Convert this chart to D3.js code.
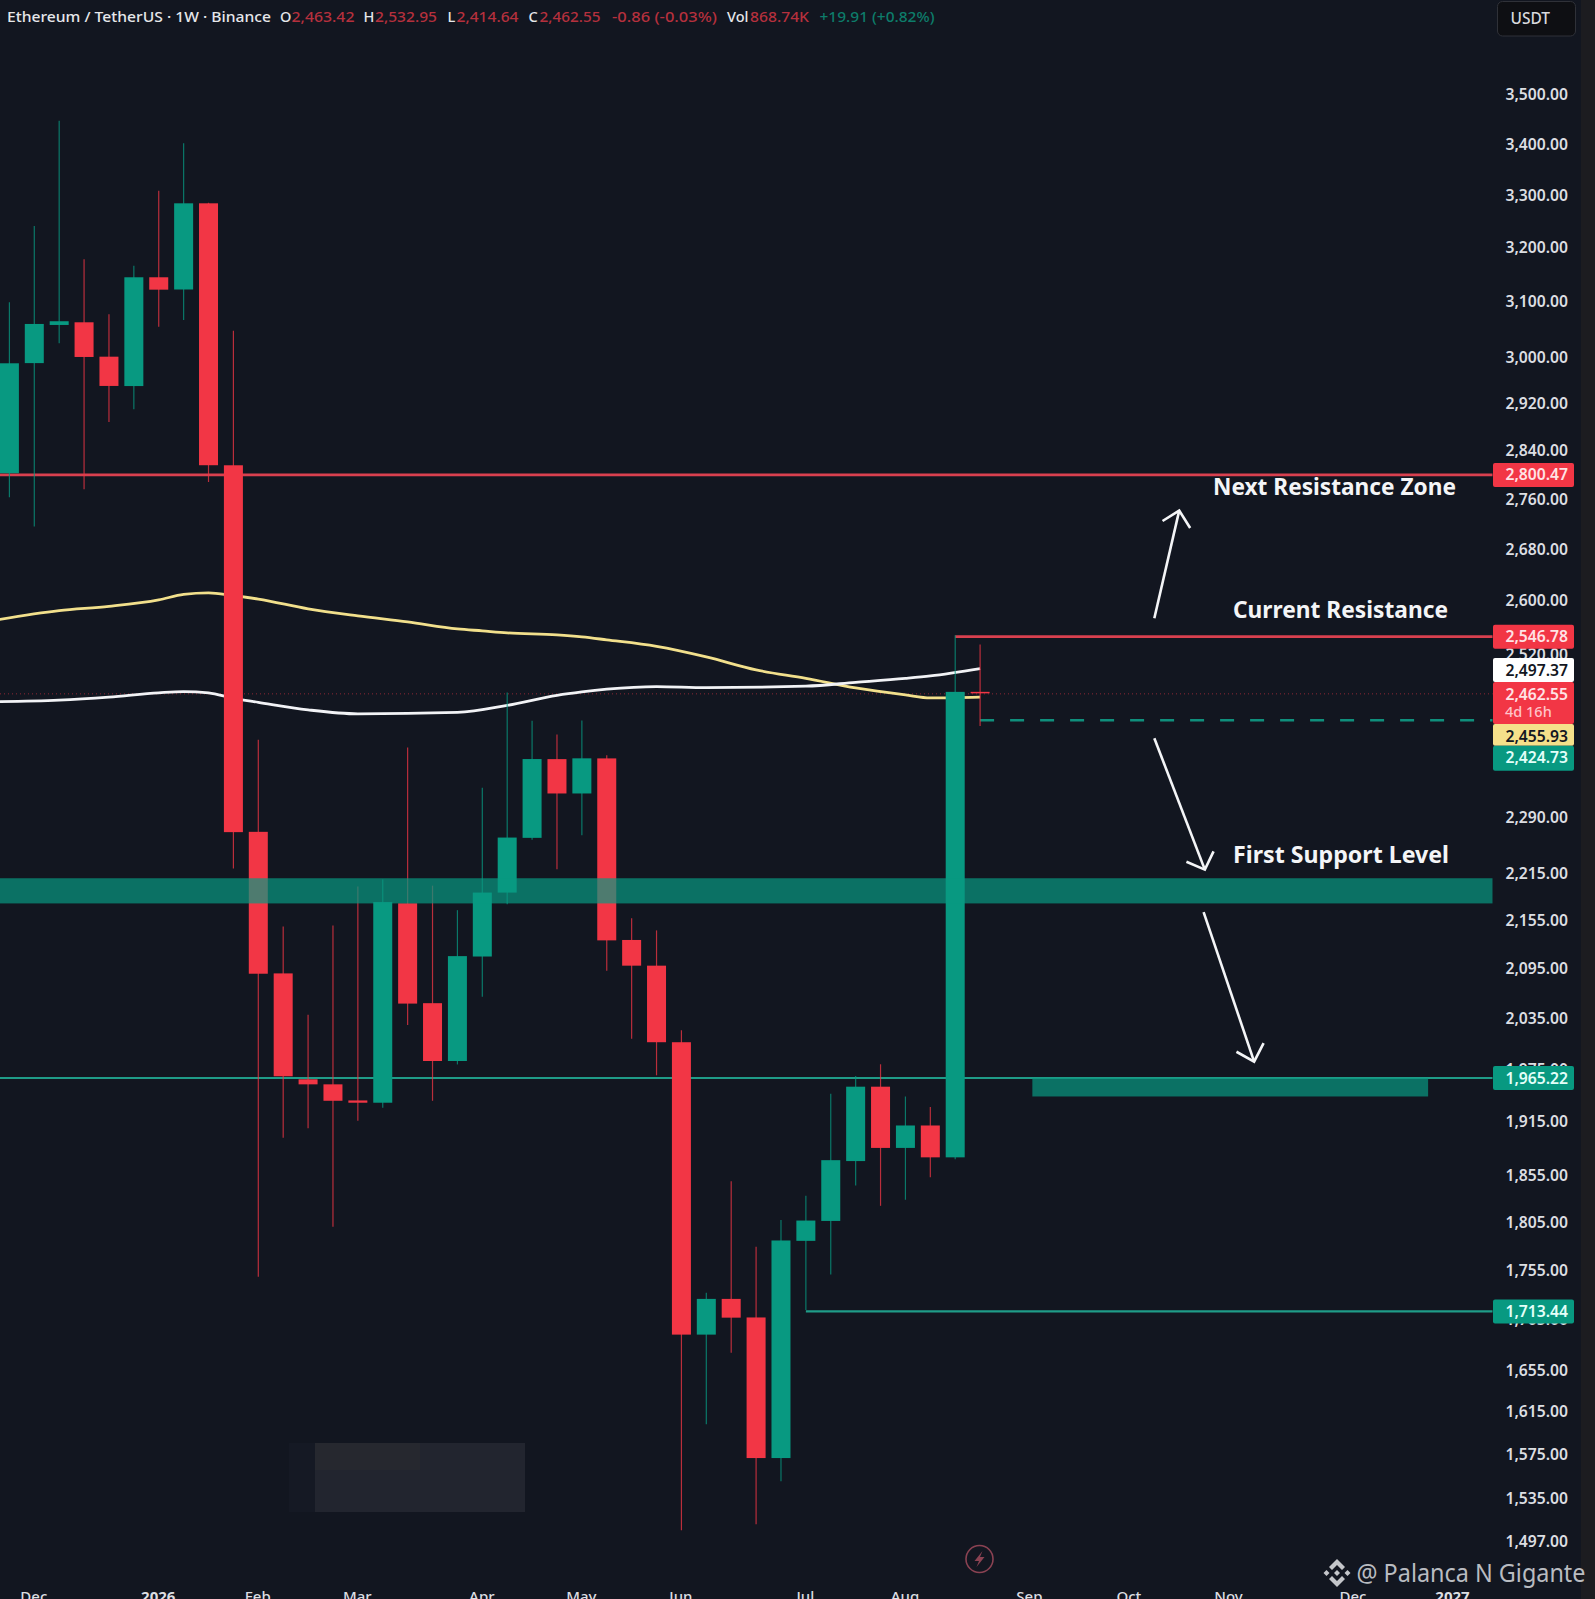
<!DOCTYPE html>
<html>
<head>
<meta charset="utf-8">
<script src="https://cdn.jsdelivr.net/npm/d3@7"></script>
<style>
  html, body { margin: 0; padding: 0; background: #121620; overflow: hidden; }
  svg { display: block; }
  text { font-family: "Noto Sans", sans-serif; }
</style>
</head>
<body>
<svg id="chart" width="1595" height="1599"></svg>
<script>
// weekly candles
const opens = [2800.9, 2988, 3055.7, 3060.5, 2999.3, 2948, 3142.5, 3120, 3282, 2814, 2269, 2088, 1962.1, 1956.3, 1937.9, 1935.3, 2175.8, 2051.8, 1983.3, 2108.8, 2189.5, 2261, 2368, 2320.7, 2369, 2129.4, 2097.5, 2005.3, 1688.9, 1724.7, 1706, 1570.8, 1784.5, 1805.5, 1870.1, 1953.6, 1884.6, 1909.6, 1874.2, 2463.42];
const closes = [2987.7, 3057.5, 3062.4, 2998.8, 2948.2, 3142.5, 3119.7, 3282, 2814.1, 2268.6, 2087.6, 1965.6, 1956.3, 1937.5, 1935.3, 2177.3, 2051.3, 1983.3, 2109.3, 2189.5, 2261.4, 2368.1, 2320.7, 2369.1, 2128.9, 2097.5, 2005.3, 1688.9, 1724.7, 1705.8, 1570.8, 1784.9, 1805.9, 1871.1, 1953.6, 1884.6, 1909.6, 1874.2, 2463.4, 2462.55];
const highs = [3096.7, 3238.6, 3445.2, 3175.9, 3074.9, 3164, 3306.4, 3399.8, 3283, 3045.5, 2395, 2146.2, 2038, 2147.6, 2197.3, 2206.3, 2384.1, 2198.4, 2167, 2328.6, 2462.5, 2421.8, 2402.4, 2422.4, 2373.4, 2156.8, 2141.4, 2019.3, 1730.9, 1848, 1778.4, 1806.4, 1832.5, 1945.6, 1965.8, 1979.5, 1942.4, 1930.4, 2546.78, 2532.95];
const lows = [2761.7, 2714.5, 3023, 2774.7, 2886.5, 2908.1, 3052.7, 3064.7, 2786.6, 2220.7, 1747.3, 1895.9, 1906.5, 1799.4, 1915, 1929.7, 2025.7, 1937.5, 1979.3, 2059.6, 2174.4, 2258.4, 2219.8, 2264.5, 2091.3, 2009.4, 1966.7, 1505.6, 1602.4, 1671, 1511, 1549.6, 1713.44, 1749.7, 1843.6, 1821.6, 1828.1, 1852.3, 1872, 2414.64];

// moving averages, [candle index, price]
const yellowMA = [[-1, 2566.7], [2, 2583.8], [4, 2590.2], [6, 2600.1], [7, 2608.5], [8, 2610.8], [9, 2606.5], [10, 2601.3], [12, 2586.4], [14, 2575.8], [16, 2566.7], [18, 2556.2], [19, 2553.2], [20, 2550.2], [22, 2547.3], [23, 2544.3], [24, 2539.8], [26, 2530.1], [28, 2514.5], [30, 2495.4], [32, 2483.1], [34, 2469.2], [36, 2459], [37, 2454.7], [39, 2455.93]];
const whiteMA = [[-1, 2449], [2, 2451.4], [4, 2455.8], [6, 2462], [7, 2463.8], [8, 2462], [9, 2454], [10, 2448.3], [12, 2437.5], [14, 2431.8], [18, 2433.9], [20, 2443.9], [22, 2458.4], [23, 2463.4], [24, 2467.3], [26, 2471.1], [28, 2469.6], [32, 2471.7], [34, 2477.2], [36, 2483], [37, 2486.6], [39, 2497.37]];

// axis ticks
const priceTicks = [3500, 3400, 3300, 3200, 3100, 3000, 2920, 2840, 2760, 2680, 2600, 2520, 2290, 2215, 2155, 2095, 2035, 1975, 1915, 1855, 1805, 1755, 1705, 1655, 1615, 1575, 1535, 1497];
const timeIndex = [1, 6, 10, 14, 19, 23, 27, 32, 36, 41, 45, 49, 54, 58];
const timeLabels = ["Dec", "2026", "Feb", "Mar", "Apr", "May", "Jun", "Jul", "Aug", "Sep", "Oct", "Nov", "Dec", "2027"];

// price labels on the axis
const tagPrices = [2800.47, 2546.78, 2497.37, 2462.55, 2455.93, 2424.73, 1965.22, 1713.44];
const tagFills = ["#f23645", "#f23645", "#ffffff", "#f23645", "#f5e08a", "#089981", "#089981", "#089981"];
const tagInk = ["#ffe3e5", "#ffe3e5", "#131722", "#ffe3e5", "#131722", "#e3fff9", "#e3fff9", "#e3fff9"];
const tagHeights = [24, 24, 24, 42, 21.8, 25, 24, 24];

// zones and annotations
const upperZone = [2208, 2175.6];
const lowerZone = [1965.22, 1944];
const lowerZoneSpan = [41.1, 57];
const arrows = [
  [[46, 2572.3], [47, 2740.1]],
  [[46, 2397.2], [48.03, 2219.2]],
  [[47.98, 2164.6], [50.01, 1982.5]]
];
const arrowHeads = [
  [[46.33, 2723.4], [47, 2740.1], [47.44, 2712.2]],
  [[47.29, 2229.4], [48.03, 2219.2], [48.38, 2243.1]],
  [[49.3, 1994.1], [50.01, 1982.5], [50.39, 2004.3]]
];

const red = "#f23645";
const green = "#089981";

const svg = d3.select("#chart");

// log price scale like the TradingView one
const y = d3.scaleLog().domain([1497, 3500]).range([1540, 93.8]);
const x = d3.scaleLinear().domain([0, 58]).range([9.4, 1453]);
const paneRight = 1492.5;
const levelNudge = 1.4;

const candles = d3.range(opens.length).map(i => ({
  i, o: opens[i], c: closes[i], h: highs[i], l: lows[i], color: closes[i] >= opens[i] ? green : red
}));

// right edge strip
svg.append("rect").attr("x", 1581).attr("y", 0).attr("width", 14).attr("height", 1599).attr("fill", "#1c1c20");

// grey blocks at the bottom of the pane
svg.append("rect").attr("x", 289).attr("y", 1443).attr("width", 236).attr("height", 69).attr("fill", "#151924");
svg.append("rect").attr("x", 315).attr("y", 1443).attr("width", 210).attr("height", 69).attr("fill", "#22252f");
svg.append("rect").attr("x", 315).attr("y", 1443).attr("width", 105).attr("height", 27).attr("fill", "#26282f");

// price axis
const yAxis = d3.axisLeft(y).tickValues(priceTicks).tickFormat(d3.format(",.2f")).tickSize(0).tickPadding(0);
const yG = svg.append("g").attr("transform", "translate(1568,1)").call(yAxis);
yG.select(".domain").remove();
yG.selectAll("text")
  .attr("fill", "#dcdee2")
  .style("font-size", "15.7px")
  .style("font-weight", 600)
  .style("font-family", '"Noto Sans", sans-serif');

// time axis, cut by the bottom of the window
const xAxis = d3.axisBottom(x).tickValues(timeIndex).tickFormat((d, i) => timeLabels[i]).tickSize(0);
const xG = svg.append("g").attr("transform", "translate(-1,1590)").call(xAxis);
xG.select(".domain").remove();
xG.selectAll("text")
  .attr("y", 0)
  .attr("dy", "0.8em")
  .attr("fill", "#dcdee2")
  .style("font-size", "15px")
  .style("font-weight", (d, i) => (timeLabels[i].length === 4 ? 700 : 500))
  .style("font-family", '"Noto Sans", sans-serif');

// horizontal levels
function level(price, from, stroke, width, dash, opacity) {
  svg.append("line")
    .attr("x1", from).attr("x2", paneRight)
    .attr("y1", y(price) + levelNudge).attr("y2", y(price) + levelNudge)
    .attr("stroke", stroke).attr("stroke-width", width)
    .attr("stroke-dasharray", dash || null)
    .attr("opacity", opacity || 1);
}
level(2462.55, 0, red, 1, "1 3", 0.55);
level(2800.47, 0, "#d9404f", 2.6);
level(1965.22, 0, "#1f9c88", 2.2);
level(2546.78, x(38), "#d9404f", 2.6);
level(1713.44, x(32), "#1f9c88", 2.2);
level(2424.73, x(39), "#0f8f7c", 2.6, "14 16");

// moving averages
const maLine = d3.line().x(d => x(d[0])).y(d => y(d[1])).curve(d3.curveMonotoneX);
svg.append("path").attr("d", maLine(yellowMA)).attr("fill", "none").attr("stroke", "#f2e08c").attr("stroke-width", 2.8);
svg.append("path").attr("d", maLine(whiteMA)).attr("fill", "none").attr("stroke", "#f2f3f6").attr("stroke-width", 2.8);

// candles
const bodyW = 19;
svg.append("g").selectAll("line").data(candles).join("line")
  .attr("x1", d => x(d.i)).attr("x2", d => x(d.i))
  .attr("y1", d => y(d.h)).attr("y2", d => y(d.l))
  .attr("stroke", d => d.color).attr("stroke-width", 1.2).attr("opacity", 0.75);
svg.append("g").selectAll("rect").data(candles).join("rect")
  .attr("x", d => x(d.i) - bodyW / 2)
  .attr("width", bodyW)
  .attr("y", d => Math.min(y(d.o), y(d.c)))
  .attr("height", d => Math.max(Math.abs(y(d.o) - y(d.c)), 1.5))
  .attr("fill", d => d.color);

// support zones over the candles
svg.append("rect")
  .attr("x", 0).attr("width", paneRight)
  .attr("y", y(upperZone[0])).attr("height", y(upperZone[1]) - y(upperZone[0]))
  .attr("fill", green).attr("opacity", 0.7);
svg.append("rect")
  .attr("x", x(lowerZoneSpan[0])).attr("width", x(lowerZoneSpan[1]) - x(lowerZoneSpan[0]))
  .attr("y", y(lowerZone[0]) + levelNudge).attr("height", y(lowerZone[1]) - y(lowerZone[0]))
  .attr("fill", green).attr("opacity", 0.7);

// hand drawn arrows
const arrowLine = d3.line().x(d => x(d[0])).y(d => y(d[1]));
arrows.concat(arrowHeads).forEach(a => {
  svg.append("path").attr("d", arrowLine(a)).attr("fill", "none").attr("stroke", "#f4f5f7").attr("stroke-width", 2.6);
});

// annotation text
const notes = [
  ["Next Resistance Zone", 1213, 495, 243],
  ["Current Resistance", 1233, 618, 215],
  ["First Support Level", 1233, 862.5, 216]
];
svg.append("g").selectAll("text").data(notes).join("text")
  .attr("x", d => d[1]).attr("y", d => d[2])
  .attr("textLength", d => d[3]).attr("lengthAdjust", "spacingAndGlyphs")
  .attr("fill", "#f4f5f7")
  .style("font-size", "22.5px").style("font-weight", 700)
  .text(d => d[0]);

// price tags, pushed down when they would overlap
let lastBottom = 0;
tagPrices.forEach((p, i) => {
  const h = tagHeights[i];
  let top = y(p) - 10.5;
  if (top < lastBottom) top = lastBottom;
  lastBottom = top + h;
  svg.append("rect").attr("x", 1493).attr("y", top).attr("width", 81).attr("height", h).attr("rx", 2).attr("fill", tagFills[i]);
  svg.append("text").attr("x", 1568).attr("y", top + 17.5).attr("text-anchor", "end")
    .attr("fill", tagInk[i]).style("font-size", "15.7px").style("font-weight", 600)
    .text(d3.format(",.2f")(p));
  if (p === 2462.55) {
    svg.append("text").attr("x", 1505).attr("y", top + 35).attr("fill", "#ffc4c9")
      .style("font-size", "14.5px").style("font-weight", 500).text("4d 16h");
  }
});

// header line
const headerBits = [
  ["Ethereum / TetherUS · 1W · Binance", 7, "#e6e7ea", 264],
  ["O", 280, "#e6e7ea"], ["2,463.42", 291.5, "#b5303d", 63],
  ["H", 363.5, "#e6e7ea"], ["2,532.95", 375, "#b5303d", 62],
  ["L", 447.5, "#e6e7ea"], ["2,414.64", 456.5, "#b5303d", 62],
  ["C", 528.5, "#e6e7ea"], ["2,462.55", 539.5, "#b5303d", 61],
  ["-0.86 (-0.03%)", 612, "#b5303d", 105],
  ["Vol", 727, "#e6e7ea"], ["868.74K", 750, "#b5303d", 59],
  ["+19.91 (+0.82%)", 819.5, "#0d7c6a", 115]
];
svg.append("g").selectAll("text").data(headerBits).join("text")
  .attr("x", d => d[1]).attr("y", 22)
  .attr("fill", d => d[2])
  .attr("textLength", d => d[3] || null)
  .attr("lengthAdjust", "spacingAndGlyphs")
  .style("font-size", "14.5px").style("font-weight", 500)
  .text(d => d[0]);

// USDT button
svg.append("rect").attr("x", 1497.5).attr("y", 1.5).attr("width", 78).attr("height", 34.5).attr("rx", 5)
  .attr("fill", "#0e0f13").attr("stroke", "#2f3138");
svg.append("text").attr("x", 1510.5).attr("y", 23.5).attr("fill", "#d8dade")
  .style("font-size", "15.5px").style("font-weight", 500).text("USDT");

// flash icon
const flash = svg.append("g").attr("transform", "translate(979.5,1559)");
flash.append("circle").attr("r", 13.5).attr("fill", "none").attr("stroke", "#8a4252").attr("stroke-width", 1.6);
flash.append("path").attr("d", "M3,-8 L-5,2 L-0.5,2 L-3,8 L5,-2 L0.5,-2 Z").attr("fill", "#8a4252");

// watermark
const logo = svg.append("g").attr("transform", "translate(1337,1573)").attr("fill", "#c4c6ca");
logo.append("path").attr("d", "M0,-14 L8,-6 L5,-3 L0,-8 L-5,-3 L-8,-6 Z");
logo.append("path").attr("d", "M0,14 L8,6 L5,3 L0,8 L-5,3 L-8,6 Z");
logo.append("path").attr("d", "M0,-3 L3,0 L0,3 L-3,0 Z");
logo.append("path").attr("d", "M-10.5,-3 L-7.5,0 L-10.5,3 L-13.5,0 Z");
logo.append("path").attr("d", "M10.5,-3 L13.5,0 L10.5,3 L7.5,0 Z");
svg.append("text").attr("x", 1356.5).attr("y", 1582).attr("fill", "#b9bcc1")
  .attr("textLength", 229).attr("lengthAdjust", "spacingAndGlyphs")
  .style("font-size", "25px").style("font-weight", 400).text("@ Palanca N Gigante");
</script>
</body>
</html>
